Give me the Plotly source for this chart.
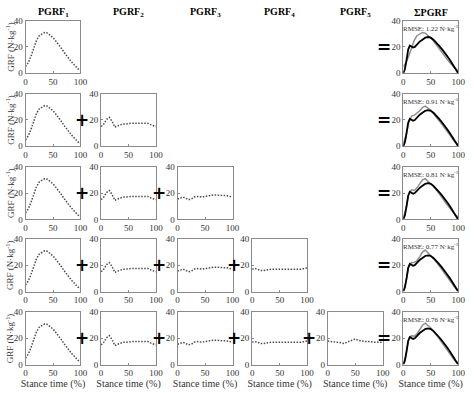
import plotly.graph_objects as go

W, H = 474, 393

# ---------------- data ----------------
STANCE = [0, 5, 10, 15, 20, 25, 30, 35, 40, 45, 50, 55, 60, 65, 70, 75, 80, 85, 90, 95, 100]

PGRF1 = [5, 8, 13, 19, 25, 28.5, 30, 31, 30.5, 29, 27, 24.5, 22, 19, 16, 13, 10.5, 8, 5.5, 3.5, 2]
PGRF2 = [15, 17, 20.5, 22, 19, 14.5, 15.5, 16.5, 17, 17, 17.5, 17.5, 17.5, 17.5, 18, 18, 18, 17.5, 16.5, 15.5, 15]
PGRF3 = [15.5, 16, 17, 16, 15, 15.5, 17, 17.5, 17, 17, 17.5, 18, 18, 18.5, 18.5, 18.5, 18, 18, 18, 17.5, 17]
PGRF4 = [17, 17.5, 17, 16, 16, 16.5, 16.5, 17, 17, 17, 17, 16.5, 16.5, 16.5, 16.5, 16.5, 16.5, 17, 17, 17.5, 18]
PGRF5 = [18, 17.5, 17.5, 17, 17, 16.5, 16, 17, 18, 19, 19.5, 18.5, 18, 18, 17.5, 17.5, 17, 17, 17, 17, 17]

MEASURED_X = [0, 3, 6, 9, 12, 15, 18, 21, 25, 30, 35, 40, 45, 50, 55, 60, 65, 70, 75, 80, 85, 90, 95, 100]
MEASURED = [0, 3, 10, 18, 21, 20.5, 19.5, 20, 22, 24, 25.5, 27, 27.5, 27, 25.5, 23.5, 21, 18.5, 16, 13, 10, 7, 3, 0]

SUM1 = [5, 8, 13, 19, 25, 28.5, 30, 31, 30.5, 29, 27, 24.5, 22, 19, 16, 13, 10.5, 8, 5.5, 3.5, 2]
SUM2 = [2, 8, 18, 23, 23.5, 25, 27, 29.5, 30.5, 29, 27.5, 25, 22.5, 20, 17, 14, 11.5, 8.5, 5.5, 3, 1.5]
SUM3 = [1, 8, 19, 22.5, 22, 24, 27, 30, 31, 29, 27.5, 25, 22.5, 20, 17, 14, 11, 8, 5, 3, 2]
SUM4 = [0.5, 7, 19, 22, 22, 23.5, 26.5, 30, 31.5, 29.5, 27.5, 25, 22.5, 20, 17, 14, 11, 8, 5, 2.5, 1]
SUM5 = [0.5, 7, 19.5, 22, 21.5, 23.5, 26.5, 30, 31.5, 30, 28, 25.5, 23, 20, 17, 14, 11, 8, 5, 2.5, 1.5]

RMSE = ["1.22", "0.91", "0.81", "0.77", "0.76"]
HEADERS = ["PGRF<sub>1</sub>", "PGRF<sub>2</sub>", "PGRF<sub>3</sub>", "PGRF<sub>4</sub>", "PGRF<sub>5</sub>", "ΣPGRF"]

COMPONENTS = [PGRF1, PGRF2, PGRF3, PGRF4, PGRF5]
SUMS = [SUM1, SUM2, SUM3, SUM4, SUM5]

# ---------------- layout geometry (pixels) ----------------
COL_LEFT = [24, 101, 179, 255, 332, 409]
PANEL_W = 56
ROW_TOP = [16, 91, 166, 240, 315]
PANEL_H = 54

SERIF = "Liberation Serif, Times New Roman, serif"

fig = go.Figure()
layout = dict(
    width=W, height=H,
    margin=dict(l=0, r=0, t=0, b=0),
    paper_bgcolor="white", plot_bgcolor="white",
    showlegend=False,
    font=dict(family=SERIF, size=9, color="#333"),
)
annotations = []

def px_x(x):
    return x / W

def px_y(y):
    return 1 - y / H

axis_idx = 0

def add_axes(r, c):
    global axis_idx
    axis_idx += 1
    n = "" if axis_idx == 1 else str(axis_idx)
    x0 = COL_LEFT[c]
    y0 = ROW_TOP[r]
    common = dict(
        showgrid=False, zeroline=False, showline=True, mirror=True,
        linecolor="#8a8a8a", linewidth=1,
        ticks="inside", ticklen=2, tickcolor="#8a8a8a",
        tickfont=dict(family=SERIF, size=9, color="#333"),
        fixedrange=True,
    )
    layout["xaxis" + n] = dict(
        domain=[px_x(x0), px_x(x0 + PANEL_W)], anchor="y" + n,
        range=[0, 100], tickvals=[0, 50, 100], **common,
    )
    layout["yaxis" + n] = dict(
        domain=[px_y(y0 + PANEL_H), px_y(y0)], anchor="x" + n,
        range=[0, 40], tickvals=[0, 20, 40], **common,
    )
    if r == 4:
        layout["xaxis" + n]["title"] = dict(
            text="Stance time (%)", font=dict(family=SERIF, size=10, color="#333"), standoff=2)
    return "x" + n, "y" + n

for r in range(5):
    # component panels
    for c in range(r + 1):
        xa, ya = add_axes(r, c)
        fig.add_trace(go.Scatter(
            x=STANCE, y=COMPONENTS[c], mode="lines", xaxis=xa, yaxis=ya,
            line=dict(color="#4a4a4a", width=1.5, dash="1.5px,1.5px"),
            hoverinfo="skip"))
        if c > 0:
            annotations.append(dict(
                text="<b>+</b>", xref="paper", yref="paper",
                x=px_x(COL_LEFT[c] - 19), y=px_y(ROW_TOP[r] + PANEL_H / 2),
                showarrow=False, font=dict(family="DejaVu Sans", size=17, color="black"),
                xanchor="center", yanchor="middle"))
    # sum panel
    xa, ya = add_axes(r, 5)
    fig.add_trace(go.Scatter(
        x=STANCE, y=SUMS[r], mode="lines", xaxis=xa, yaxis=ya,
        line=dict(color="#8f8f8f", width=1.5), hoverinfo="skip"))
    fig.add_trace(go.Scatter(
        x=MEASURED_X, y=MEASURED, mode="lines", xaxis=xa, yaxis=ya,
        line=dict(color="black", width=1.8), hoverinfo="skip"))
    annotations.append(dict(
        text="RMSE: " + RMSE[r] + " N·kg<sup>-1</sup>", xref=xa, yref=ya,
        x=50, y=39, showarrow=False, xanchor="center", yanchor="top",
        font=dict(family=SERIF, size=7, color="#333")))
    annotations.append(dict(
        text="<b>=</b>", xref="paper", yref="paper",
        x=px_x(COL_LEFT[5] - 20), y=px_y(ROW_TOP[r] + PANEL_H / 2),
        showarrow=False, font=dict(family="DejaVu Sans", size=17, color="black"),
        xanchor="center", yanchor="middle"))
    # y title on first column
    annotations.append(dict(
        text="GRF (N·kg<sup>-1</sup>)", xref="paper", yref="paper",
        x=px_x(8), y=px_y(ROW_TOP[r] + PANEL_H / 2), textangle=-90,
        showarrow=False, xanchor="center", yanchor="middle",
        font=dict(family=SERIF, size=9, color="#333")))

for c, h in enumerate(HEADERS):
    annotations.append(dict(
        text="<b>" + h + "</b>", xref="paper", yref="paper",
        x=px_x(COL_LEFT[c] + PANEL_W / 2), y=px_y(8),
        showarrow=False, xanchor="center", yanchor="middle",
        font=dict(family=SERIF, size=10, color="black")))

layout["annotations"] = annotations
fig.update_layout(**layout)
fig.write_html(
    "out.html",
    config={"displayModeBar": False, "staticPlot": True},
    post_script="document.body.style.margin='0';document.body.style.overflow='hidden';",
)
